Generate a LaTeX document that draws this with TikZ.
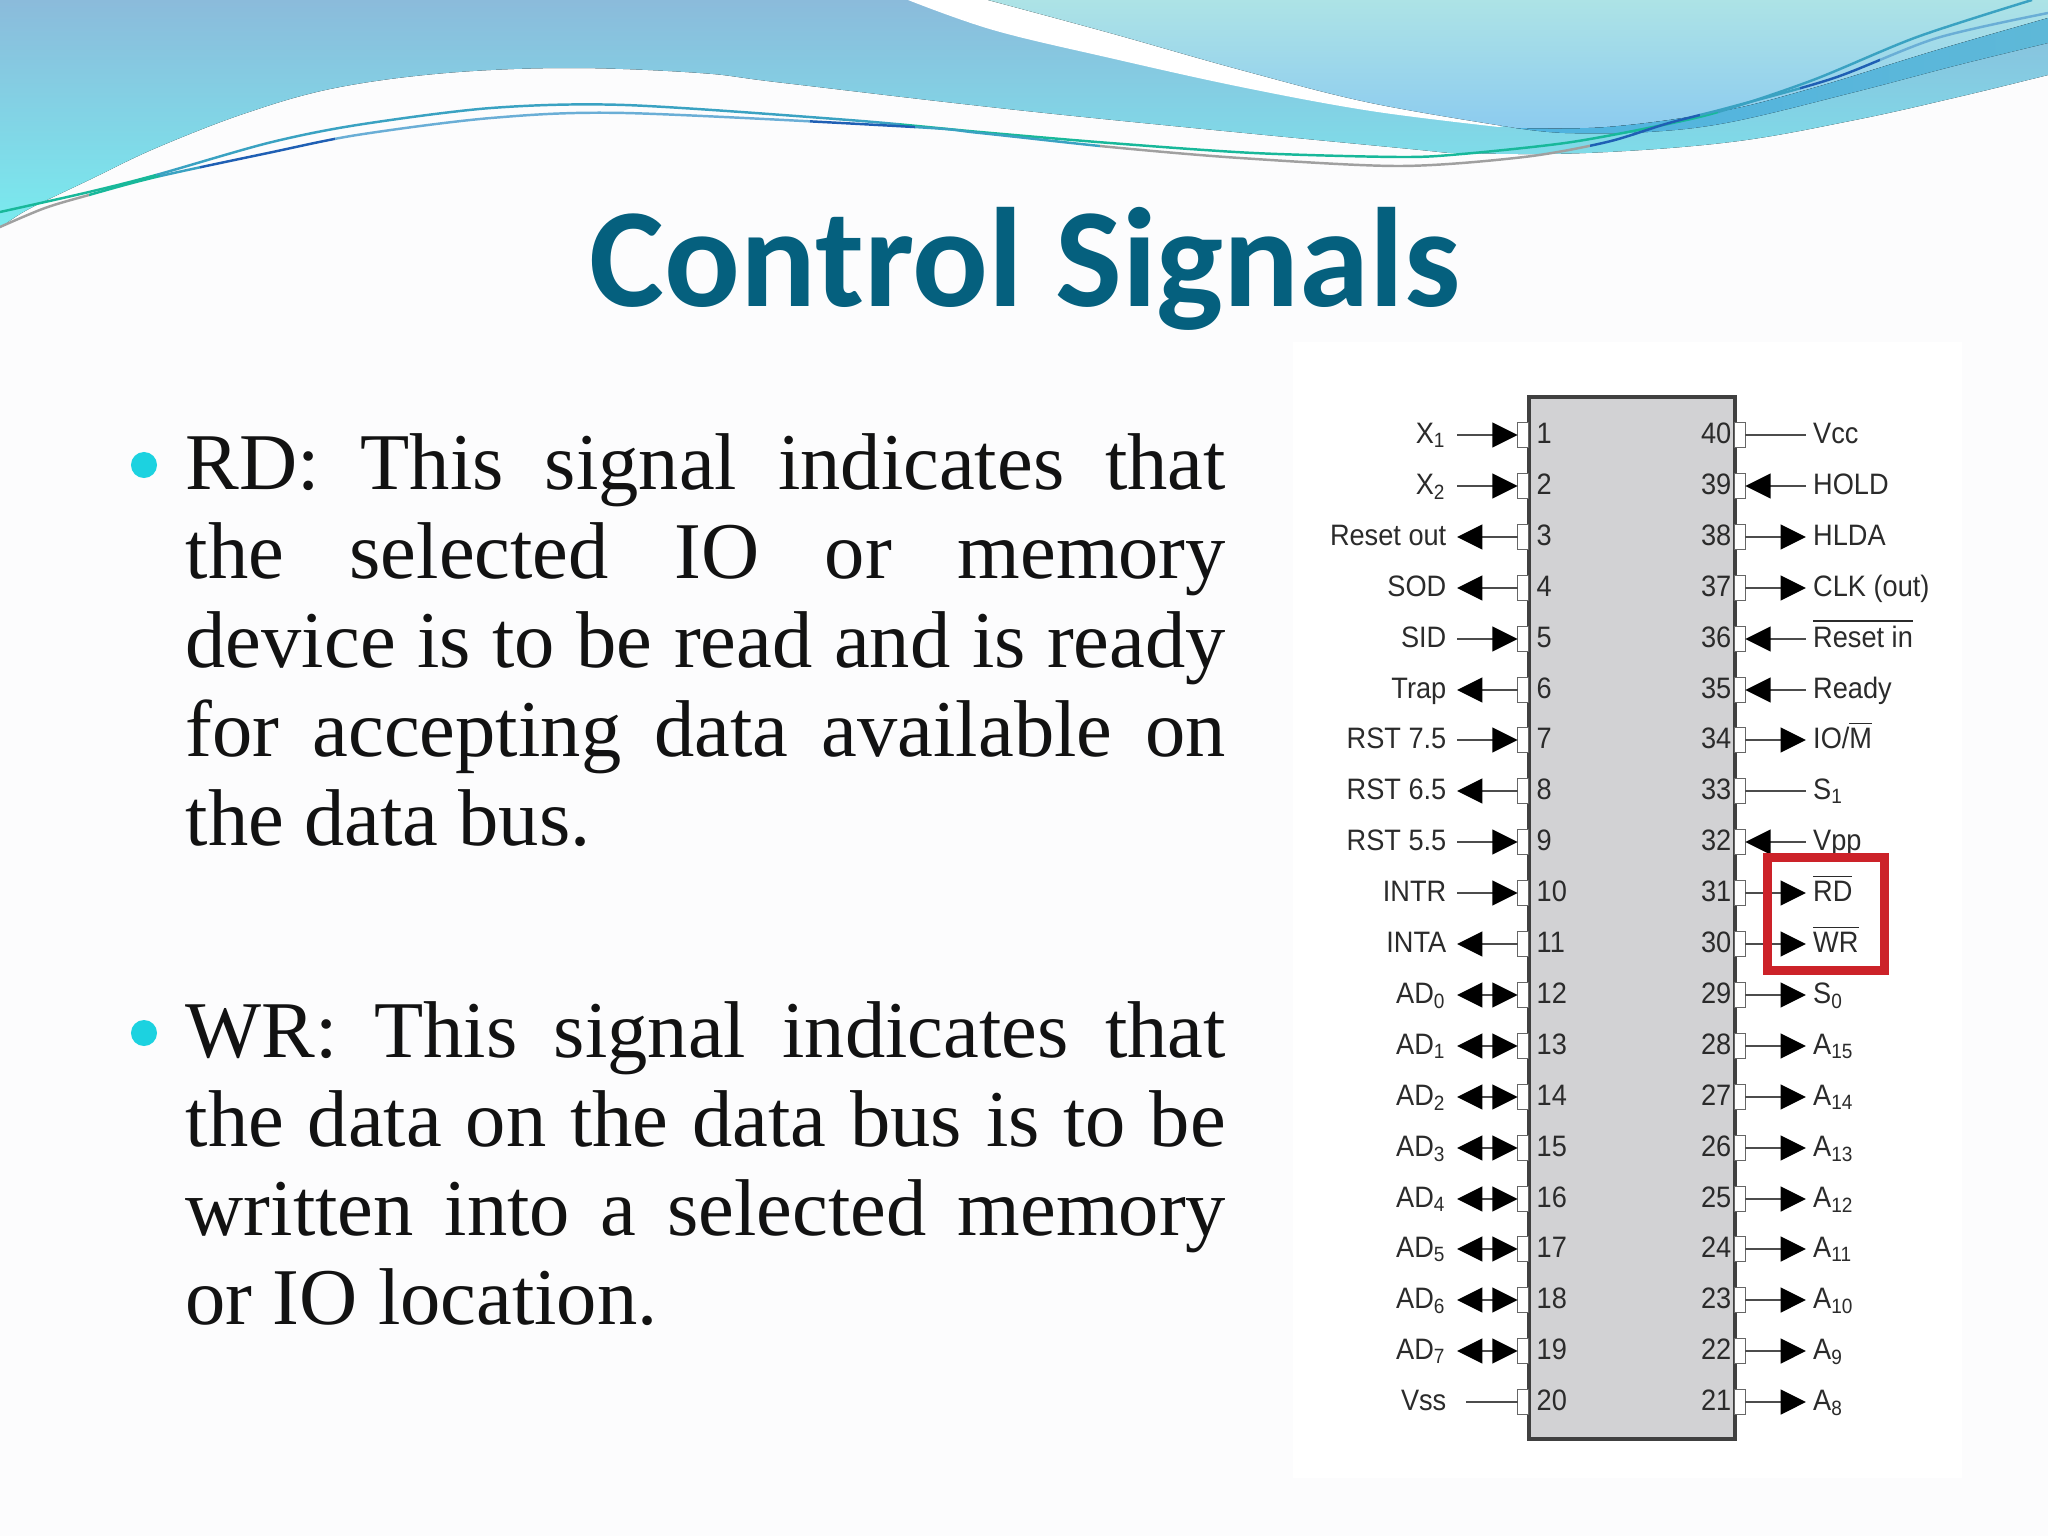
\documentclass[tikz,border=0pt]{standalone}
\usepackage{fontspec}
\setmainfont{Liberation Serif}
\newfontfamily\pinfont[FakeStretch=0.92]{Liberation Sans}
\newfontfamily\headfont{Carlito}
\usetikzlibrary{arrows.meta}
\definecolor{slidebg}{HTML}{FCFCFD}
\definecolor{headblue}{HTML}{05607E}
\definecolor{dotcyan}{HTML}{1CD2E0}
\definecolor{chipgray}{HTML}{D2D2D4}
\definecolor{boxred}{HTML}{CC2229}
\definecolor{inkgray}{HTML}{2B2B2B}
\definecolor{wiregreen}{HTML}{18B89A}
\definecolor{wireteal}{HTML}{3AA2C2}
\definecolor{wiresky}{HTML}{6AAED6}
\definecolor{wiregray}{HTML}{A0A0A0}
\definecolor{wiredark}{HTML}{1F5FB4}
\definecolor{swooshtop}{HTML}{8BBBDB}
\definecolor{swooshlow}{HTML}{79EBEF}
\definecolor{paletop}{HTML}{ADE3E6}
\definecolor{palelow}{HTML}{8CCBEF}
\definecolor{bandleft}{HTML}{4FB3E0}
\definecolor{bandright}{HTML}{5EB8D8}
\def\wireone{plot[smooth] coordinates {(0,212) (89,192) (156,175) (268,143) (357,125) (491,108) (625,105) (849,120) (980,132) (1110,143) (1254,153) (1400,157) (1462,154) (1565,143) (1648,128) (1718,112) (1813,80) (1917,37) (2032,0)}}
\def\wiretwo{plot[smooth] coordinates {(0,227) (45,208) (89,195) (156,177) (268,153) (357,135) (491,118) (625,113) (914,127) (980,133) (1110,147) (1240,158) (1400,166) (1524,157) (1607,142) (1669,123) (1731,107) (1834,78) (1937,38) (2048,13)}}
\tikzset{
  bodytext/.style={anchor=north west,inner sep=0pt,text width=295.8pt,align=justify,text=black!93,
    font=\fontsize{22.9}{25.3}\selectfont},
  bulletdot/.style={circle,fill=dotcyan,minimum size=7.4pt,inner sep=0pt},
  pinbox/.style={draw=black!60,fill=white,line width=.4pt,minimum width=3pt,minimum height=7.1pt,inner sep=0pt,outer sep=0pt},
  numl/.style={inner sep=0pt,text=inkgray,font=\pinfont\fontsize{8.4}{10}\selectfont,text height=4.8pt,text depth=0pt},
  sigleft/.style={anchor=east,inner ysep=0pt,inner xsep=2.84pt,text=inkgray,font=\pinfont\fontsize{8.4}{10}\selectfont,text height=4.8pt,text depth=0pt},
  sigright/.style={anchor=west,inner ysep=0pt,inner xsep=1.85pt,text=inkgray,font=\pinfont\fontsize{8.4}{10}\selectfont,text height=4.8pt,text depth=0pt},
  tipend/.style={-{Triangle[length=7.2pt,width=7pt,color=black,fill=black]}},
  tipstart/.style={{Triangle[length=7.2pt,width=7pt,color=black,fill=black]}-},
  tipboth/.style={{Triangle[length=7.2pt,width=7pt,color=black,fill=black]}-{Triangle[length=7.2pt,width=7pt,color=black,fill=black]}},
  wire/.style={line width=.7pt}
}
\begin{document}
\begin{tikzpicture}[x=0.01cm,y=-0.01cm]

        \useasboundingbox (0,0) rectangle (2048,1536);
        \fill[slidebg] (0,0) rectangle (2048,1536);
        \fill[white] (1293,342) rectangle (1962,1478);

        % swooshes at the top
        \fill[top color=swooshtop,bottom color=swooshlow] (0,0) -- (2048,0) -- (2048,75)
          -- plot[smooth,tension=.6] coordinates {(2048,75) (1958,97) (1855,120) (1731,142) (1586,153) (1462,153) (1400,148) (1045,113) (784,83) (700,73) (571,68) (446,73) (335,88) (246,113) (156,148) (89,180) (27,210) (0,228)} -- cycle;
        \fill[white] (908,0) -- plot[smooth,tension=.6] coordinates {(908,0) (993,30) (1110,58) (1241,87) (1371,111) (1499,127)} -- (2048,0) -- cycle;
        \fill[top color=paletop,bottom color=palelow] (988,0) -- plot[smooth,tension=.6] coordinates {(988,0) (1110,33) (1241,70) (1371,103) (1516,128)}
          -- plot[smooth,tension=.6] coordinates {(1516,128) (1607,127) (1718,112) (1813,88) (1937,50) (2048,18)} -- (2048,0) -- cycle;
        \fill[left color=bandleft,right color=bandright] plot[smooth,tension=.6] coordinates {(1516,128) (1607,127) (1718,112) (1813,88) (1937,50) (2048,18)}
          -- (2048,43) -- plot[smooth,tension=.6] coordinates {(2048,43) (1958,65) (1855,92) (1731,122) (1648,132) (1565,133) (1516,128)} -- cycle;

        % the two wires change colour along the way
        \begin{scope} \clip (0,0) rectangle (156,300);     \draw[wire,wiregreen] \wireone; \end{scope}
        \begin{scope} \clip (156,0) rectangle (900,300);   \draw[wire,wireteal]  \wireone; \end{scope}
        \begin{scope} \clip (900,0) rectangle (1718,300);  \draw[wire,wiregreen] \wireone; \end{scope}
        \begin{scope} \clip (1718,0) rectangle (2048,300); \draw[wire,wireteal]  \wireone; \end{scope}
        \begin{scope} \clip (0,0) rectangle (89,300);      \draw[wire,wiregray]  \wiretwo; \end{scope}
        \begin{scope} \clip (89,0) rectangle (160,300);    \draw[wire,wiregreen] \wiretwo; \end{scope}
        \begin{scope} \clip (160,0) rectangle (200,300);   \draw[wire,wireteal]  \wiretwo; \end{scope}
        \begin{scope} \clip (200,0) rectangle (335,300);   \draw[wire,wiredark]  \wiretwo; \end{scope}
        \begin{scope} \clip (335,0) rectangle (810,300);   \draw[wire,wiresky]   \wiretwo; \end{scope}
        \begin{scope} \clip (810,0) rectangle (915,300);   \draw[wire,wiredark]  \wiretwo; \end{scope}
        \begin{scope} \clip (915,0) rectangle (1100,300);  \draw[wire,wireteal]  \wiretwo; \end{scope}
        \begin{scope} \clip (1100,0) rectangle (1590,300); \draw[wire,wiregray]  \wiretwo; \end{scope}
        \begin{scope} \clip (1590,0) rectangle (1700,300); \draw[wire,wiredark]  \wiretwo; \end{scope}
        \begin{scope} \clip (1700,0) rectangle (1800,300); \draw[wire,wireteal]  \wiretwo; \end{scope}
        \begin{scope} \clip (1800,0) rectangle (1880,300); \draw[wire,wiredark]  \wiretwo; \end{scope}
        \begin{scope} \clip (1880,0) rectangle (2048,300); \draw[wire,wiresky]   \wiretwo; \end{scope}

        \node[font=\headfont\bfseries\fontsize{40.2}{48}\selectfont,text=headblue,inner sep=0pt,anchor=base] (head) at (1025,306) {Control Signals};

        \node[bulletdot] (b1) at (144,465) {};
        \node[bulletdot] (b2) at (144,1033) {};
        \node[bodytext] (rdtext) at (185,433) {RD: This signal indicates that\linebreak the selected IO or memory\linebreak device is to be read and is ready\linebreak for accepting data available on\linebreak the data bus.};
        \node[bodytext] (wrtext) at (185,1001) {WR: This signal indicates that\linebreak the data on the data bus is to be\linebreak written into a selected memory\linebreak or IO location.};

        \node[draw=black!75,fill=chipgray,line width=1pt,minimum width=58.7pt,minimum height=296.4pt,inner sep=0pt] (chip) at (1632,918) {};

        % left pins
        \begin{scope}
          \node[pinbox] (p1)  at (1523,435)  {}; \node[numl,anchor=west] (n1)  at (1536,435)  {1};  \node[sigleft] (x1)  at (1457,435)  {X\textsubscript{1}};
          \node[pinbox] (p2)  at (1523,486)  {}; \node[numl,anchor=west] (n2)  at (1536,486)  {2};  \node[sigleft] (x2)  at (1457,486)  {X\textsubscript{2}};
          \node[pinbox] (p3)  at (1523,537)  {}; \node[numl,anchor=west] (n3)  at (1536,537)  {3};  \node[sigleft] (x3)  at (1457,537)  {Reset out};
          \node[pinbox] (p4)  at (1523,588)  {}; \node[numl,anchor=west] (n4)  at (1536,588)  {4};  \node[sigleft] (x4)  at (1457,588)  {SOD};
          \node[pinbox] (p5)  at (1523,639)  {}; \node[numl,anchor=west] (n5)  at (1536,639)  {5};  \node[sigleft] (x5)  at (1457,639)  {SID};
          \node[pinbox] (p6)  at (1523,690)  {}; \node[numl,anchor=west] (n6)  at (1536,690)  {6};  \node[sigleft] (x6)  at (1457,690)  {Trap};
          \node[pinbox] (p7)  at (1523,740)  {}; \node[numl,anchor=west] (n7)  at (1536,740)  {7};  \node[sigleft] (x7)  at (1457,740)  {RST 7.5};
          \node[pinbox] (p8)  at (1523,791)  {}; \node[numl,anchor=west] (n8)  at (1536,791)  {8};  \node[sigleft] (x8)  at (1457,791)  {RST 6.5};
          \node[pinbox] (p9)  at (1523,842)  {}; \node[numl,anchor=west] (n9)  at (1536,842)  {9};  \node[sigleft] (x9)  at (1457,842)  {RST 5.5};
          \node[pinbox] (p10) at (1523,893)  {}; \node[numl,anchor=west] (n10) at (1536,893)  {10}; \node[sigleft] (x10) at (1457,893)  {INTR};
          \node[pinbox] (p11) at (1523,944)  {}; \node[numl,anchor=west] (n11) at (1536,944)  {11}; \node[sigleft] (x11) at (1457,944)  {INTA};
          \node[pinbox] (p12) at (1523,995)  {}; \node[numl,anchor=west] (n12) at (1536,995)  {12}; \node[sigleft] (x12) at (1457,995)  {AD\textsubscript{0}};
          \node[pinbox] (p13) at (1523,1046) {}; \node[numl,anchor=west] (n13) at (1536,1046) {13}; \node[sigleft] (x13) at (1457,1046) {AD\textsubscript{1}};
          \node[pinbox] (p14) at (1523,1097) {}; \node[numl,anchor=west] (n14) at (1536,1097) {14}; \node[sigleft] (x14) at (1457,1097) {AD\textsubscript{2}};
          \node[pinbox] (p15) at (1523,1148) {}; \node[numl,anchor=west] (n15) at (1536,1148) {15}; \node[sigleft] (x15) at (1457,1148) {AD\textsubscript{3}};
          \node[pinbox] (p16) at (1523,1199) {}; \node[numl,anchor=west] (n16) at (1536,1199) {16}; \node[sigleft] (x16) at (1457,1199) {AD\textsubscript{4}};
          \node[pinbox] (p17) at (1523,1249) {}; \node[numl,anchor=west] (n17) at (1536,1249) {17}; \node[sigleft] (x17) at (1457,1249) {AD\textsubscript{5}};
          \node[pinbox] (p18) at (1523,1300) {}; \node[numl,anchor=west] (n18) at (1536,1300) {18}; \node[sigleft] (x18) at (1457,1300) {AD\textsubscript{6}};
          \node[pinbox] (p19) at (1523,1351) {}; \node[numl,anchor=west] (n19) at (1536,1351) {19}; \node[sigleft] (x19) at (1457,1351) {AD\textsubscript{7}};
          \node[pinbox] (p20) at (1523,1402) {}; \node[numl,anchor=west] (n20) at (1536,1402) {20}; \node[sigleft,inner xsep=5.4pt] (x20) at (1466,1402) {Vss};
        \end{scope}

        % right pins
        \begin{scope}
          \node[pinbox] (q40) at (1740,435)  {}; \node[numl,anchor=east] (n40) at (1732,435)  {40}; \node[sigright] (y40) at (1806,435)  {Vcc};
          \node[pinbox] (q39) at (1740,486)  {}; \node[numl,anchor=east] (n39) at (1732,486)  {39}; \node[sigright] (y39) at (1806,486)  {HOLD};
          \node[pinbox] (q38) at (1740,537)  {}; \node[numl,anchor=east] (n38) at (1732,537)  {38}; \node[sigright] (y38) at (1806,537)  {HLDA};
          \node[pinbox] (q37) at (1740,588)  {}; \node[numl,anchor=east] (n37) at (1732,588)  {37}; \node[sigright] (y37) at (1806,588)  {CLK (out)};
          \node[pinbox] (q36) at (1740,639)  {}; \node[numl,anchor=east] (n36) at (1732,639)  {36}; \node[sigright] (y36) at (1806,639)  {$\overline{\mbox{Reset in}}$};
          \node[pinbox] (q35) at (1740,690)  {}; \node[numl,anchor=east] (n35) at (1732,690)  {35}; \node[sigright] (y35) at (1806,690)  {Ready};
          \node[pinbox] (q34) at (1740,740)  {}; \node[numl,anchor=east] (n34) at (1732,740)  {34}; \node[sigright] (y34) at (1806,740)  {IO/$\overline{\mbox{M}}$};
          \node[pinbox] (q33) at (1740,791)  {}; \node[numl,anchor=east] (n33) at (1732,791)  {33}; \node[sigright] (y33) at (1806,791)  {S\textsubscript{1}};
          \node[pinbox] (q32) at (1740,842)  {}; \node[numl,anchor=east] (n32) at (1732,842)  {32}; \node[sigright] (y32) at (1806,842)  {Vpp};
          \node[pinbox] (q31) at (1740,893)  {}; \node[numl,anchor=east] (n31) at (1732,893)  {31}; \node[sigright] (y31) at (1806,893)  {$\overline{\mbox{RD}}$};
          \node[pinbox] (q30) at (1740,944)  {}; \node[numl,anchor=east] (n30) at (1732,944)  {30}; \node[sigright] (y30) at (1806,944)  {$\overline{\mbox{WR}}$};
          \node[pinbox] (q29) at (1740,995)  {}; \node[numl,anchor=east] (n29) at (1732,995)  {29}; \node[sigright] (y29) at (1806,995)  {S\textsubscript{0}};
          \node[pinbox] (q28) at (1740,1046) {}; \node[numl,anchor=east] (n28) at (1732,1046) {28}; \node[sigright] (y28) at (1806,1046) {A\textsubscript{15}};
          \node[pinbox] (q27) at (1740,1097) {}; \node[numl,anchor=east] (n27) at (1732,1097) {27}; \node[sigright] (y27) at (1806,1097) {A\textsubscript{14}};
          \node[pinbox] (q26) at (1740,1148) {}; \node[numl,anchor=east] (n26) at (1732,1148) {26}; \node[sigright] (y26) at (1806,1148) {A\textsubscript{13}};
          \node[pinbox] (q25) at (1740,1199) {}; \node[numl,anchor=east] (n25) at (1732,1199) {25}; \node[sigright] (y25) at (1806,1199) {A\textsubscript{12}};
          \node[pinbox] (q24) at (1740,1249) {}; \node[numl,anchor=east] (n24) at (1732,1249) {24}; \node[sigright] (y24) at (1806,1249) {A\textsubscript{11}};
          \node[pinbox] (q23) at (1740,1300) {}; \node[numl,anchor=east] (n23) at (1732,1300) {23}; \node[sigright] (y23) at (1806,1300) {A\textsubscript{10}};
          \node[pinbox] (q22) at (1740,1351) {}; \node[numl,anchor=east] (n22) at (1732,1351) {22}; \node[sigright] (y22) at (1806,1351) {A\textsubscript{9}};
          \node[pinbox] (q21) at (1740,1402) {}; \node[numl,anchor=east] (n21) at (1732,1402) {21}; \node[sigright] (y21) at (1806,1402) {A\textsubscript{8}};
        \end{scope}

        \begin{scope}[every edge/.style={draw,black!70,line width=.7pt}]
          \path (x1)  edge[tipend] (p1);
          \path (x2)  edge[tipend] (p2);
          \path (x3)  edge[tipstart] (p3);
          \path (x4)  edge[tipstart] (p4);
          \path (x5)  edge[tipend] (p5);
          \path (x6)  edge[tipstart] (p6);
          \path (x7)  edge[tipend] (p7);
          \path (x8)  edge[tipstart] (p8);
          \path (x9)  edge[tipend] (p9);
          \path (x10) edge[tipend] (p10);
          \path (x11) edge[tipstart] (p11);
          \path (x12) edge[tipboth] (p12);
          \path (x13) edge[tipboth] (p13);
          \path (x14) edge[tipboth] (p14);
          \path (x15) edge[tipboth] (p15);
          \path (x16) edge[tipboth] (p16);
          \path (x17) edge[tipboth] (p17);
          \path (x18) edge[tipboth] (p18);
          \path (x19) edge[tipboth] (p19);
          \path (x20) edge (p20);
          \path (q40) edge (y40);
          \path (q39) edge[tipstart] (y39);
          \path (q38) edge[tipend] (y38);
          \path (q37) edge[tipend] (y37);
          \path (q36) edge[tipstart] (y36);
          \path (q35) edge[tipstart] (y35);
          \path (q34) edge[tipend] (y34);
          \path (q33) edge (y33);
          \path (q32) edge[tipstart] (y32);
          \path (q31) edge[tipend] (y31);
          \path (q30) edge[tipend] (y30);
          \path (q29) edge[tipend] (y29);
          \path (q28) edge[tipend] (y28);
          \path (q27) edge[tipend] (y27);
          \path (q26) edge[tipend] (y26);
          \path (q25) edge[tipend] (y25);
          \path (q24) edge[tipend] (y24);
          \path (q23) edge[tipend] (y23);
          \path (q22) edge[tipend] (y22);
          \path (q21) edge[tipend] (y21);
        \end{scope}

        \node[draw=boxred,line width=2.56pt,minimum width=33.3pt,minimum height=32.4pt,inner sep=0pt] (rdwr) at (1826,914) {};

      \end{tikzpicture}
\end{document}
